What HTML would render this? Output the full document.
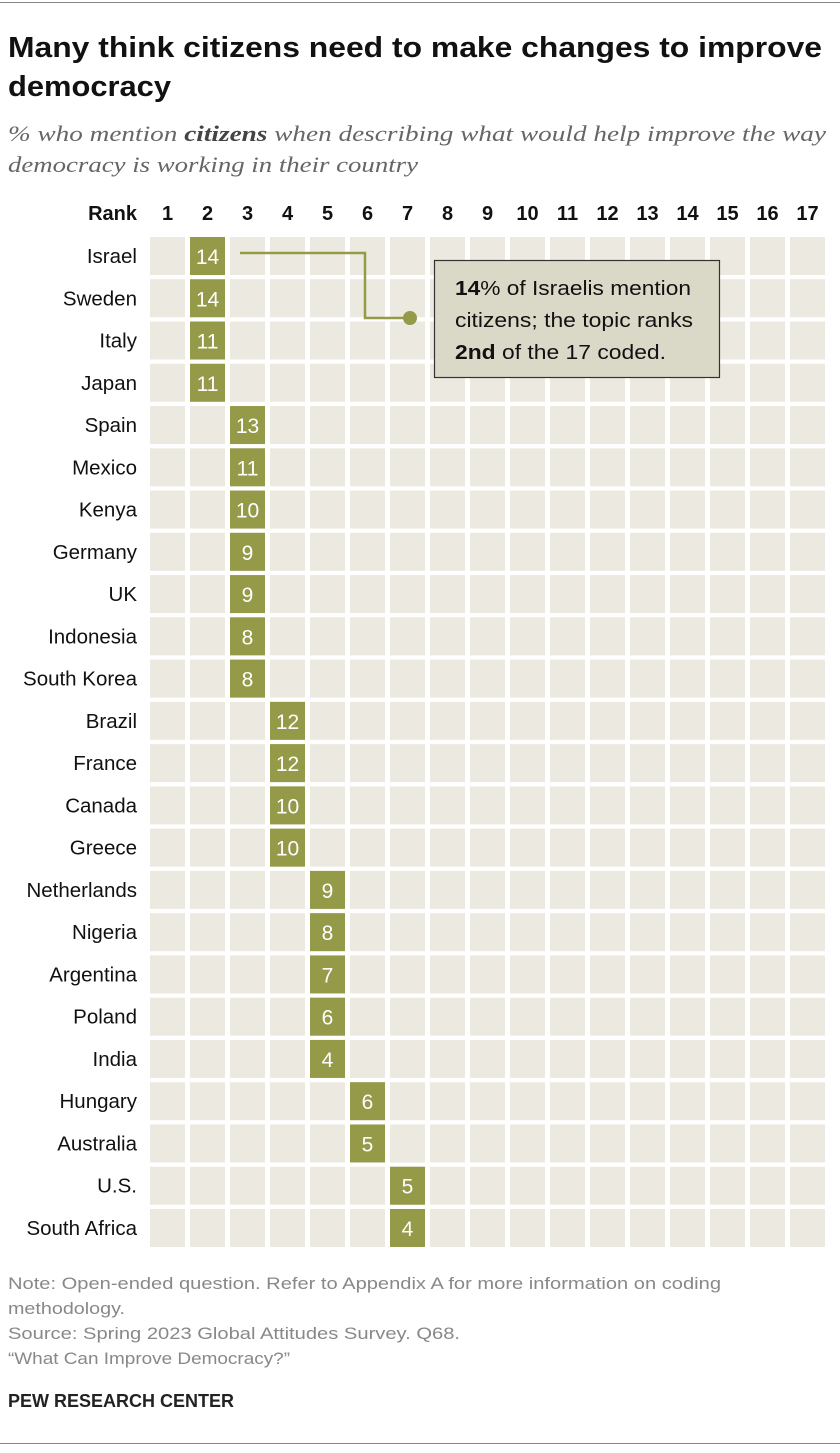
<!DOCTYPE html>
<html><head><meta charset="utf-8"><style>
body{margin:0;background:#fff;width:840px;height:1448px;overflow:hidden;font-family:"Liberation Sans",sans-serif;}
</style></head><body>
<svg id="chart" width="840" height="1448" xmlns="http://www.w3.org/2000/svg" font-family="Liberation Sans, sans-serif">
<line x1="0" y1="2.5" x2="840" y2="2.5" stroke="#888" stroke-width="1"/>
<text x="8" y="57" font-size="29" font-weight="bold" fill="#111" textLength="814" lengthAdjust="spacingAndGlyphs">Many think citizens need to make changes to improve</text>
<text x="8" y="96" font-size="29" font-weight="bold" fill="#111" textLength="163" lengthAdjust="spacingAndGlyphs">democracy</text>
<text x="8" y="141" font-size="22" font-style="italic" font-family="Liberation Serif, serif" fill="#666" textLength="818" lengthAdjust="spacingAndGlyphs">% who mention <tspan font-weight="bold" fill="#444">citizens</tspan> when describing what would help improve the way</text>
<text x="8" y="172" font-size="22" font-style="italic" font-family="Liberation Serif, serif" fill="#666" textLength="410" lengthAdjust="spacingAndGlyphs">democracy is working in their country</text>
<text x="137" y="220" font-size="20" font-weight="bold" text-anchor="end" fill="#111">Rank</text>
<g id="grid"></g>
<g id="marks"></g>
<polyline points="240,253 365,253 365,318 410,318" fill="none" stroke="#949a48" stroke-width="2.5"/>
<circle cx="410" cy="318" r="7" fill="#949a48"/>
<rect x="434.5" y="260.5" width="285" height="117" fill="#dad8c7" stroke="#333" stroke-width="1.2"/>
<text x="455" y="295" font-size="20" fill="#111" textLength="236" lengthAdjust="spacingAndGlyphs"><tspan font-weight="bold">14</tspan>% of Israelis mention</text>
<text x="455" y="327" font-size="20" fill="#111" textLength="238" lengthAdjust="spacingAndGlyphs">citizens; the topic ranks</text>
<text x="455" y="359" font-size="20" fill="#111" textLength="211" lengthAdjust="spacingAndGlyphs"><tspan font-weight="bold">2nd</tspan> of the 17 coded.</text>
<text x="8" y="1289" font-size="17" fill="#888" textLength="713" lengthAdjust="spacingAndGlyphs">Note: Open-ended question. Refer to Appendix A for more information on coding</text>
<text x="8" y="1314" font-size="17" fill="#888" textLength="117" lengthAdjust="spacingAndGlyphs">methodology.</text>
<text x="8" y="1339" font-size="17" fill="#888" textLength="452" lengthAdjust="spacingAndGlyphs">Source: Spring 2023 Global Attitudes Survey. Q68.</text>
<text x="8" y="1364" font-size="17" fill="#888" textLength="282" lengthAdjust="spacingAndGlyphs">“What Can Improve Democracy?”</text>
<text x="8" y="1407" font-size="18" font-weight="bold" fill="#222" textLength="226" lengthAdjust="spacingAndGlyphs">PEW RESEARCH CENTER</text>
<line x1="0" y1="1443.5" x2="840" y2="1443.5" stroke="#888" stroke-width="1"/>
</svg>
<script>
const countries=["Israel","Sweden","Italy","Japan","Spain","Mexico","Kenya","Germany","UK","Indonesia","South Korea","Brazil","France","Canada","Greece","Netherlands","Nigeria","Argentina","Poland","India","Hungary","Australia","U.S.","South Africa"];
const ranks=[2,2,2,2,3,3,3,3,3,3,3,4,4,4,4,5,5,5,5,5,6,6,7,7];
const values=[14,14,11,11,13,11,10,9,9,8,8,12,12,10,10,9,8,7,6,4,6,5,5,4];
const rankLabels=[1,2,3,4,5,6,7,8,9,10,11,12,13,14,15,16,17];
const NS="http://www.w3.org/2000/svg";
const xCol=r=>150+(r-1)*40;
const yRow=i=>237+i*42.26;
const CW=35,CH=38;
const grid=document.getElementById('grid'),marks=document.getElementById('marks'),svg=document.getElementById('chart');
function mk(tag,attrs,parent,txt){const e=document.createElementNS(NS,tag);for(const k in attrs)e.setAttribute(k,attrs[k]);if(txt!==undefined)e.textContent=txt;parent.appendChild(e);return e;}
rankLabels.forEach(r=>{
  const t=mk('text',{x:xCol(r)+CW/2,y:220,'font-size':20,'font-weight':'bold','text-anchor':'middle',fill:'#111'},svg,String(r));
  
  
});
countries.forEach((c,i)=>{
  const lab=mk('text',{x:137,y:yRow(i)+CH/2+7,'font-size':20.5,'text-anchor':'end',fill:'#111'},svg,c);
  
  
  rankLabels.forEach(r=>{
    const cell=mk('rect',{x:xCol(r),y:yRow(i),width:CW,height:CH,fill:'#ece9e1'},grid);
    
    
  });
  const m=mk('rect',{x:xCol(ranks[i]),y:yRow(i),width:CW,height:CH,fill:'#949a48'},marks);
  
  
  const v=mk('text',{x:xCol(ranks[i])+CW/2,y:yRow(i)+CH/2+8,'font-size':21,'text-anchor':'middle',fill:'#fff'},marks,String(values[i]));
  
  
});
</script>
</body></html>
